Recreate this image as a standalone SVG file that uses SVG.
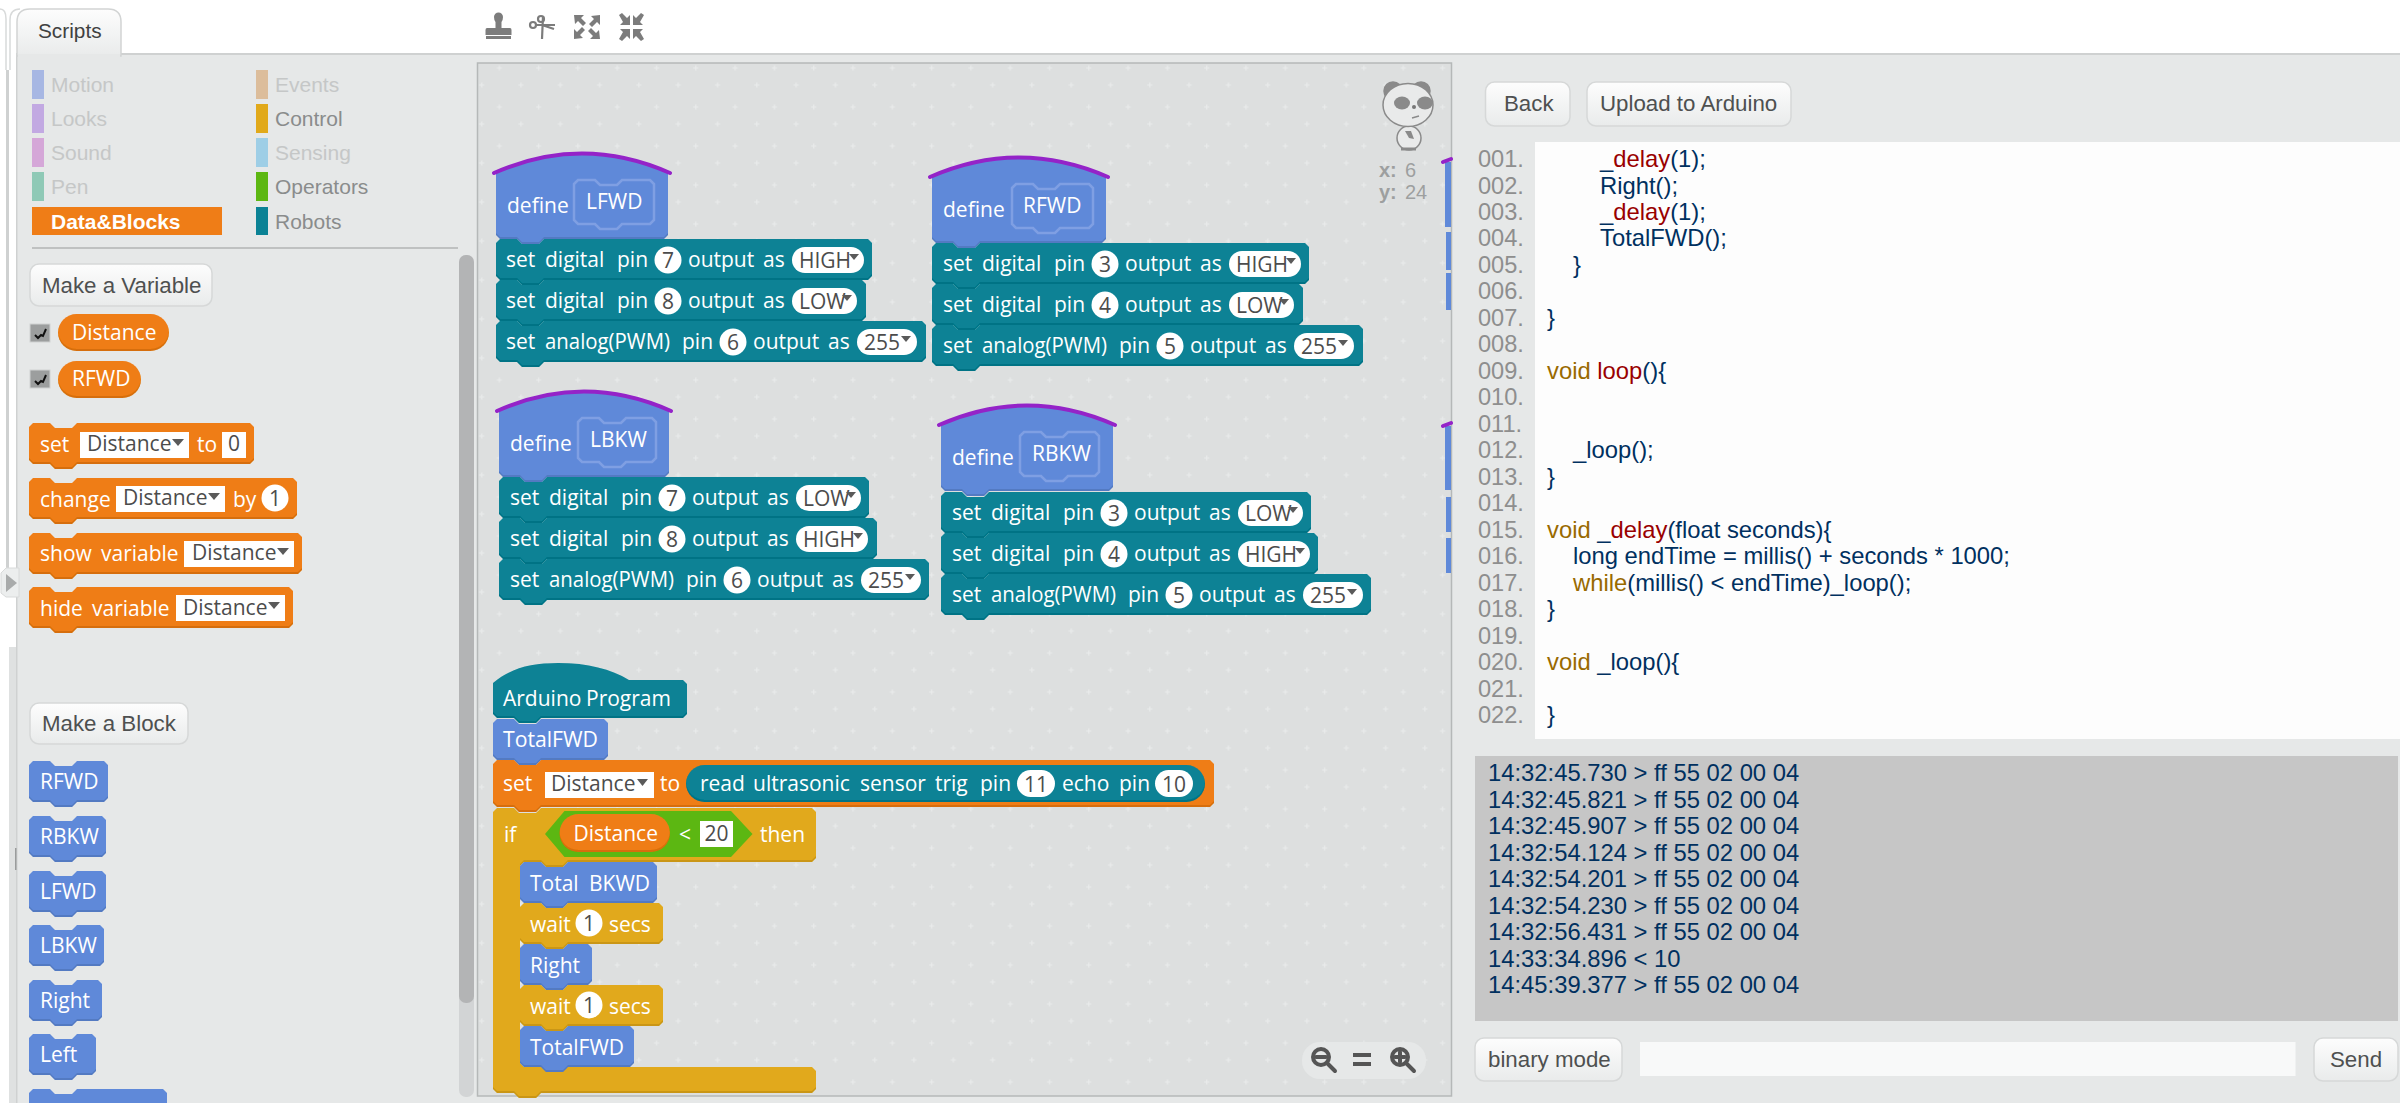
<svg xmlns="http://www.w3.org/2000/svg" width="2400" height="1103" viewBox="0 0 2400 1103">
<style>
text{font-family:"Liberation Sans",Arial,sans-serif}
.w,.k,.n{font-family:"Open Sans","Noto Sans",sans-serif;font-size:21px;font-weight:500}
.w{fill:#fff}
.k,.n{fill:#4c4c4c;font-weight:400}
.n{text-anchor:middle}
.o{fill:#fff}
.t{fill:#5a5a5a}
.bl{fill:#5f89d9;filter:url(#bevel)}
.te{fill:#0b8295;filter:url(#bevel)}
.or{fill:#ef7d17;filter:url(#bevel)}
.go{fill:#e1a91a;filter:url(#bevel)}
.pu{fill:none;stroke:#9423c8;stroke-width:4;stroke-linecap:round}
.in{fill:none;stroke:#7f9fe3;stroke-width:2.5}
.btn{fill:url(#bg);stroke:#d6d8d8;stroke-width:1.5}
.bt{font-size:22.3px;fill:#4e5050}
.cat{font-size:21px;fill:#c5c7c7}
.cat2{font-size:21px;fill:#8a8c8c}
.ln{font-size:23.6px;fill:#8e8e8e}
.c{font-size:23.8px;fill:#00305f}
.r{fill:#990000}
.y{fill:#996a00}
.lg{font-size:23.8px;fill:#00305f}
.ic{fill:#7c7c7c}
.zi{fill:none;stroke:#555;stroke-width:4}
</style>
<defs>
<linearGradient id="bg" x1="0" y1="0" x2="0" y2="1"><stop offset="0" stop-color="#fdfdfd"/><stop offset="1" stop-color="#e9ebeb"/></linearGradient>
<filter id="bevel" x="-2%" y="-5%" width="104%" height="115%">
<feOffset in="SourceAlpha" dy="-2" result="o"/>
<feFlood flood-color="#000" flood-opacity=".22"/>
<feComposite in2="SourceAlpha" operator="in"/>
<feComposite in2="o" operator="out" result="e"/>
<feMerge><feMergeNode in="SourceGraphic"/><feMergeNode in="e"/></feMerge>
</filter>
<pattern id="grid" patternUnits="userSpaceOnUse" x="475" y="60" width="39.3" height="39">
<path d="M21.8 8h5M24.3 5.500v5M4.200 25h5M6.700 22.500v5" stroke="#e9ebeb" stroke-width="1.200" fill="none"/>
</pattern>
</defs>

<rect width="2400" height="1103" fill="#e6e8e8"/>
<rect width="2400" height="54" fill="#fff"/>
<rect x="0" y="53" width="2400" height="2" fill="#cfd1d1"/>

<g id="left-strip">
<rect x="0" y="0" width="16" height="1103" fill="#fff"/>
<rect x="6" y="70" width="3" height="500" fill="#cfd1d1"/>
<rect x="9" y="647" width="7" height="456" fill="#dfe1e1"/>
<rect x="16" y="55" width="1.500" height="1048" fill="#cfd1d1"/>
<rect x="15" y="848" width="1.500" height="22" fill="#9a9c9c"/>
<path d="M0 9q6 0 6 10V70M10 70V20q0-11 10-11" fill="none" stroke="#d8dada" stroke-width="1.500"/>
<path d="M19 568H6l-5 5v20l5 4H19z" fill="#eceeee" stroke="#d8dada"/>
<path d="M6 574l11 9-11 9z" fill="#a9abab"/>
</g>

<g id="tab-scripts">
<path d="M17 56V22q0-13 13-13H108q13 0 13 13V56z" fill="url(#bg)" stroke="#d2d4d4" stroke-width="1.500"/>
<path d="M18 54H120V57H18z" fill="#e6e8e8"/>
<text x="38" y="38" font-size="20.800" fill="#3f4141">Scripts</text>
</g>

<g id="toolbar">
<path class="ic" d="M494 17a4.500 4.500 0 0 1 9 0q0 3-1.500 5v6h8.500q1.500 0 1.500 2v5h-26v-5q0-2 1.500-2h8.500v-6q-1.500-2-1.500-5zM486 36h25v3h-25z"/>
<g fill="none" stroke="#7c7c7c" stroke-width="2.200"><circle cx="533" cy="25" r="3"/><circle cx="541" cy="19" r="3"/><path d="M536 25h19M543 16l-1 23M542 25l12 4"/></g>
<path class="ic" d="M574 15h10l-3 3 5 5-3 3-5-5-3 3zM600 15v10l-3-3-5 5-3-3 5-5-3-3zM574 39V29l3 3 5-5 3 3-5 5 3 3zM600 39h-10l3-3-5-5 3-3 5 5 3-3z"/>
<path class="ic" d="M619 15l3-2 5 5 3-3v10h-10l3-3zM644 15l-3-2-5 5-3-3v10h10l-3-3zM619 39l3 2 5-5 3 3V29h-10l3 3zM644 39l-3 2-5-5-3 3V29h10l-3 3z"/>
</g>

<g id="categories">
<rect x="32" y="70" width="12" height="29" fill="#a7b7e3"/><text class="cat" x="51" y="92">Motion</text>
<rect x="32" y="104" width="12" height="29" fill="#c2a9e2"/><text class="cat" x="51" y="126">Looks</text>
<rect x="32" y="138" width="12" height="29" fill="#d5a7d8"/><text class="cat" x="51" y="160">Sound</text>
<rect x="32" y="172" width="12" height="29" fill="#8fc9b6"/><text class="cat" x="51" y="194">Pen</text>
<rect x="32" y="207" width="190" height="28" fill="#ef7d17"/><text x="51" y="229" font-size="21" font-weight="700" fill="#fff">Data&amp;Blocks</text>
<rect x="256" y="70" width="12" height="29" fill="#dcbd9b"/><text class="cat" x="275" y="92">Events</text>
<rect x="256" y="104" width="12" height="29" fill="#e1a91a"/><text class="cat2" x="275" y="126">Control</text>
<rect x="256" y="138" width="12" height="29" fill="#9ecee6"/><text class="cat" x="275" y="160">Sensing</text>
<rect x="256" y="172" width="12" height="29" fill="#5cb712"/><text class="cat2" x="275" y="194">Operators</text>
<rect x="256" y="207" width="12" height="28" fill="#0b8295"/><text class="cat2" x="275" y="229">Robots</text>
<rect x="32" y="247" width="426" height="2" fill="#bfc1c1"/>
</g>

<g id="palette-scrollbar">
<rect x="459" y="255" width="15" height="842" rx="7" fill="#d2d4d5"/>
<rect x="459" y="255" width="15" height="748" rx="7" fill="#b3b4b5"/>
</g>

<g id="make-variable"><rect class="btn" x="30" y="264" width="182" height="42" rx="9"/><text class="bt" x="42" y="293">Make a Variable</text></g>

<g id="var-distance">
<rect x="30" y="324" width="20" height="18" fill="#9c9e9e" stroke="#d0d2d2"/><path d="M35 335l3 3 3-3 2 1 3-7" fill="none" stroke="#111" stroke-width="2"/>
<rect class="or" x="58" y="314" width="111" height="37" rx="18.500"/><text class="w" x="72" y="340" font-weight="600">Distance</text>
</g>
<g id="var-rfwd">
<rect x="30" y="370" width="20" height="18" fill="#9c9e9e" stroke="#d0d2d2"/><path d="M35 381l3 3 3-3 2 1 3-7" fill="none" stroke="#111" stroke-width="2"/>
<rect class="or" x="58" y="361" width="83" height="37" rx="18.500"/><text class="w" x="72" y="386" font-weight="600">RFWD</text>
</g>

<g id="pal-set" transform="translate(29 423)">
<path class="or" d="M0 4l4-4H21l5 5H43l5-5H221l4 4V37l-4 4H48l-5 5H26l-5-5H4l-4-4z"/>
<text class="w" x="11" y="29">set</text><rect class="o" x="51" y="9" width="109" height="26"/><text class="k" x="58" y="28">Distance</text><path class="t" d="M143 16h12l-6 7z"/>
<text class="w" x="168" y="29">to</text><rect class="o" x="193" y="9" width="24" height="26"/><text class="n" x="205" y="28">0</text>
</g>
<g id="pal-change" transform="translate(29 478)">
<path class="or" d="M0 4l4-4H21l5 5H43l5-5H264l4 4V37l-4 4H48l-5 5H26l-5-5H4l-4-4z"/>
<text class="w" x="11" y="29">change</text><rect class="o" x="87" y="8" width="109" height="26"/><text class="k" x="94" y="27">Distance</text><path class="t" d="M179 15h12l-6 7z"/>
<text class="w" x="204" y="29">by</text><circle class="o" cx="246" cy="20" r="13.500"/><text class="n" x="246" y="28">1</text>
</g>
<g id="pal-show" transform="translate(29 533)">
<path class="or" d="M0 4l4-4H21l5 5H43l5-5H269l4 4V37l-4 4H48l-5 5H26l-5-5H4l-4-4z"/>
<text class="w" x="11" y="28">show</text><text class="w" x="72" y="28">variable</text><rect class="o" x="155" y="8" width="110" height="26"/><text class="k" x="163" y="27">Distance</text><path class="t" d="M248 15h12l-6 7z"/>
</g>
<g id="pal-hide" transform="translate(29 587)">
<path class="or" d="M0 4l4-4H21l5 5H43l5-5H260l4 4V37l-4 4H48l-5 5H26l-5-5H4l-4-4z"/>
<text class="w" x="11" y="29">hide</text><text class="w" x="63" y="29">variable</text><rect class="o" x="147" y="8" width="109" height="26"/><text class="k" x="154" y="28">Distance</text><path class="t" d="M239 15h12l-6 7z"/>
</g>

<g id="make-block"><rect class="btn" x="30" y="703" width="158" height="41" rx="9"/><text class="bt" x="42" y="731">Make a Block</text></g>

<g id="pal-rfwd" transform="translate(29 761)"><path class="bl" d="M0 4l4-4H21l5 5H43l5-5H75l4 4V37l-4 4H48l-5 5H26l-5-5H4l-4-4z"/><text class="w" x="11" y="28" font-weight="600">RFWD</text></g>
<g id="pal-rbkw" transform="translate(29 816)"><path class="bl" d="M0 4l4-4H21l5 5H43l5-5H73l4 4V37l-4 4H48l-5 5H26l-5-5H4l-4-4z"/><text class="w" x="11" y="28" font-weight="600">RBKW</text></g>
<g id="pal-lfwd" transform="translate(29 871)"><path class="bl" d="M0 4l4-4H21l5 5H43l5-5H73l4 4V37l-4 4H48l-5 5H26l-5-5H4l-4-4z"/><text class="w" x="11" y="28" font-weight="600">LFWD</text></g>
<g id="pal-lbkw" transform="translate(29 925)"><path class="bl" d="M0 4l4-4H21l5 5H43l5-5H71l4 4V37l-4 4H48l-5 5H26l-5-5H4l-4-4z"/><text class="w" x="11" y="28" font-weight="600">LBKW</text></g>
<g id="pal-right" transform="translate(29 980)"><path class="bl" d="M0 4l4-4H21l5 5H43l5-5H69l4 4V37l-4 4H48l-5 5H26l-5-5H4l-4-4z"/><text class="w" x="11" y="28" font-weight="600">Right</text></g>
<g id="pal-left" transform="translate(29 1034)"><path class="bl" d="M0 4l4-4H21l5 5H43l5-5H63l4 4V37l-4 4H48l-5 5H26l-5-5H4l-4-4z"/><text class="w" x="11" y="28" font-weight="600">Left</text></g>
<g id="pal-next" transform="translate(29 1089)"><path class="bl" d="M0 4l4-4H21l5 5H43l5-5H134l4 4V37l-4 4H48l-5 5H26l-5-5H4l-4-4z"/></g>

<g id="script-area">
<rect x="477.500" y="63" width="974" height="1033" fill="#dddfdf" stroke="#b5b8b8" stroke-width="1.500"/>
<rect x="478" y="64" width="973" height="1032" fill="url(#grid)"/>
</g>

<g id="panda" fill="#e9eaea" stroke="#8a8a8a" stroke-width="1.500">
<circle cx="1393" cy="91" r="9" fill="#8a8a8a"/><circle cx="1421" cy="91" r="9" fill="#8a8a8a"/>
<ellipse cx="1409" cy="138" rx="12" ry="12"/>
<ellipse cx="1408" cy="105" rx="25" ry="21.500"/>
<ellipse cx="1402" cy="103" rx="8" ry="6.500" fill="#8a8a8a" stroke="none"/><ellipse cx="1425" cy="103" rx="8" ry="6.500" fill="#8a8a8a" stroke="none"/>
<circle cx="1414" cy="107" r="2" fill="#777" stroke="none"/>
<path d="M1412 118l7-2" fill="none"/>
<path d="M1405 131l6 0 3 8-5-1z" fill="#8a8a8a" stroke="none"/>
<path d="M1401 149h15" fill="none" stroke-width="3"/>
</g>
<g id="coords" font-size="20" fill="#9d9f9f">
<text x="1379" y="177" font-weight="700">x:</text><text x="1405" y="177">6</text>
<text x="1379" y="199" font-weight="700">y:</text><text x="1405" y="199">24</text>
</g>

<g id="stack-lfwd">
<g transform="translate(496 172)"><path class="bl" d="M0 0Q86-38 172 0V63l-4 4H48l-5 5H26l-5-5H4l-4-4z"/><path class="pu" d="M-2 1Q86-38 174 1"/><path class="in" transform="translate(78 8)" d="M0 4l4-4H21l5 5H43l5-5H76l4 4V40l-4 4H48l-5 5H26l-5-5H4l-4-4z"/><text class="w" x="11" y="41">define</text><text class="w" x="90" y="37" font-weight="600">LFWD</text></g>
<g transform="translate(496 239)"><path class="te" d="M0 4l4-4H21l5 5H43l5-5H372l4 4V37l-4 4H48l-5 5H26l-5-5H4l-4-4z"/><text class="w" y="28"><tspan x="10">set</tspan><tspan x="49">digital</tspan><tspan x="121">pin</tspan><tspan x="192">output</tspan><tspan x="267">as</tspan></text><circle class="o" cx="172" cy="21" r="13.500"/><text class="n" x="172" y="29">7</text><rect class="o" x="296" y="8" width="72" height="26" rx="13"/><text class="k" x="303" y="29">HIGH</text><path class="t" d="M353 15h10l-5 6z"/></g>
<g transform="translate(496 280)"><path class="te" d="M0 4l4-4H21l5 5H43l5-5H366l4 4V37l-4 4H48l-5 5H26l-5-5H4l-4-4z"/><text class="w" y="28"><tspan x="10">set</tspan><tspan x="49">digital</tspan><tspan x="121">pin</tspan><tspan x="192">output</tspan><tspan x="267">as</tspan></text><circle class="o" cx="172" cy="21" r="13.500"/><text class="n" x="172" y="29">8</text><rect class="o" x="296" y="8" width="65" height="26" rx="13"/><text class="k" x="303" y="29">LOW</text><path class="t" d="M346 15h10l-5 6z"/></g>
<g transform="translate(496 321)"><path class="te" d="M0 4l4-4H21l5 5H43l5-5H426l4 4V37l-4 4H48l-5 5H26l-5-5H4l-4-4z"/><text class="w" y="28"><tspan x="10">set</tspan><tspan x="186">pin</tspan><tspan x="257">output</tspan><tspan x="332">as</tspan></text><text class="w" x="49" y="28" textLength="125" lengthAdjust="spacingAndGlyphs">analog(PWM)</text><circle class="o" cx="237" cy="21" r="13.500"/><text class="n" x="237" y="29">6</text><rect class="o" x="361" y="8" width="60" height="26" rx="13"/><text class="k" x="368" y="29">255</text><path class="t" d="M405 15h10l-5 6z"/></g>
</g>

<g id="stack-rfwd">
<g transform="translate(932 176)"><path class="bl" d="M0 0Q87-38 174 0V63l-4 4H48l-5 5H26l-5-5H4l-4-4z"/><path class="pu" d="M-2 1Q87-38 176 1"/><path class="in" transform="translate(80 8)" d="M0 4l4-4H21l5 5H43l5-5H77l4 4V40l-4 4H48l-5 5H26l-5-5H4l-4-4z"/><text class="w" x="11" y="41">define</text><text class="w" x="91" y="37" font-weight="600">RFWD</text></g>
<g transform="translate(932 243)"><path class="te" d="M0 4l4-4H21l5 5H43l5-5H373l4 4V37l-4 4H48l-5 5H26l-5-5H4l-4-4z"/><text class="w" y="28"><tspan x="11">set</tspan><tspan x="50">digital</tspan><tspan x="122">pin</tspan><tspan x="193">output</tspan><tspan x="268">as</tspan></text><circle class="o" cx="173" cy="21" r="13.500"/><text class="n" x="173" y="29">3</text><rect class="o" x="297" y="8" width="72" height="26" rx="13"/><text class="k" x="304" y="29">HIGH</text><path class="t" d="M354 15h10l-5 6z"/></g>
<g transform="translate(932 284)"><path class="te" d="M0 4l4-4H21l5 5H43l5-5H367l4 4V37l-4 4H48l-5 5H26l-5-5H4l-4-4z"/><text class="w" y="28"><tspan x="11">set</tspan><tspan x="50">digital</tspan><tspan x="122">pin</tspan><tspan x="193">output</tspan><tspan x="268">as</tspan></text><circle class="o" cx="173" cy="21" r="13.500"/><text class="n" x="173" y="29">4</text><rect class="o" x="297" y="8" width="65" height="26" rx="13"/><text class="k" x="304" y="29">LOW</text><path class="t" d="M347 15h10l-5 6z"/></g>
<g transform="translate(932 325)"><path class="te" d="M0 4l4-4H21l5 5H43l5-5H427l4 4V37l-4 4H48l-5 5H26l-5-5H4l-4-4z"/><text class="w" y="28"><tspan x="11">set</tspan><tspan x="187">pin</tspan><tspan x="258">output</tspan><tspan x="333">as</tspan></text><text class="w" x="50" y="28" textLength="125" lengthAdjust="spacingAndGlyphs">analog(PWM)</text><circle class="o" cx="238" cy="21" r="13.500"/><text class="n" x="238" y="29">5</text><rect class="o" x="362" y="8" width="60" height="26" rx="13"/><text class="k" x="369" y="29">255</text><path class="t" d="M406 15h10l-5 6z"/></g>
</g>

<g id="stack-lbkw">
<g transform="translate(499 410)"><path class="bl" d="M0 0Q85-38 170 0V63l-4 4H48l-5 5H26l-5-5H4l-4-4z"/><path class="pu" d="M-2 1Q85-38 172 1"/><path class="in" transform="translate(79 8)" d="M0 4l4-4H21l5 5H43l5-5H74l4 4V40l-4 4H48l-5 5H26l-5-5H4l-4-4z"/><text class="w" x="11" y="41">define</text><text class="w" x="91" y="37" font-weight="600">LBKW</text></g>
<g transform="translate(499 477)"><path class="te" d="M0 4l4-4H21l5 5H43l5-5H366l4 4V37l-4 4H48l-5 5H26l-5-5H4l-4-4z"/><text class="w" y="28"><tspan x="11">set</tspan><tspan x="50">digital</tspan><tspan x="122">pin</tspan><tspan x="193">output</tspan><tspan x="268">as</tspan></text><circle class="o" cx="173" cy="21" r="13.500"/><text class="n" x="173" y="29">7</text><rect class="o" x="297" y="8" width="65" height="26" rx="13"/><text class="k" x="304" y="29">LOW</text><path class="t" d="M347 15h10l-5 6z"/></g>
<g transform="translate(499 518)"><path class="te" d="M0 4l4-4H21l5 5H43l5-5H374l4 4V37l-4 4H48l-5 5H26l-5-5H4l-4-4z"/><text class="w" y="28"><tspan x="11">set</tspan><tspan x="50">digital</tspan><tspan x="122">pin</tspan><tspan x="193">output</tspan><tspan x="268">as</tspan></text><circle class="o" cx="173" cy="21" r="13.500"/><text class="n" x="173" y="29">8</text><rect class="o" x="297" y="8" width="72" height="26" rx="13"/><text class="k" x="304" y="29">HIGH</text><path class="t" d="M354 15h10l-5 6z"/></g>
<g transform="translate(499 559)"><path class="te" d="M0 4l4-4H21l5 5H43l5-5H426l4 4V37l-4 4H48l-5 5H26l-5-5H4l-4-4z"/><text class="w" y="28"><tspan x="11">set</tspan><tspan x="187">pin</tspan><tspan x="258">output</tspan><tspan x="333">as</tspan></text><text class="w" x="50" y="28" textLength="125" lengthAdjust="spacingAndGlyphs">analog(PWM)</text><circle class="o" cx="238" cy="21" r="13.500"/><text class="n" x="238" y="29">6</text><rect class="o" x="362" y="8" width="60" height="26" rx="13"/><text class="k" x="369" y="29">255</text><path class="t" d="M406 15h10l-5 6z"/></g>
</g>

<g id="stack-rbkw">
<g transform="translate(941 424)"><path class="bl" d="M0 0Q86-38 172 0V63l-4 4H48l-5 5H26l-5-5H4l-4-4z"/><path class="pu" d="M-2 1Q86-38 174 1"/><path class="in" transform="translate(79 8)" d="M0 4l4-4H21l5 5H43l5-5H75l4 4V40l-4 4H48l-5 5H26l-5-5H4l-4-4z"/><text class="w" x="11" y="41">define</text><text class="w" x="91" y="37" font-weight="600">RBKW</text></g>
<g transform="translate(941 492)"><path class="te" d="M0 4l4-4H21l5 5H43l5-5H366l4 4V37l-4 4H48l-5 5H26l-5-5H4l-4-4z"/><text class="w" y="28"><tspan x="11">set</tspan><tspan x="50">digital</tspan><tspan x="122">pin</tspan><tspan x="193">output</tspan><tspan x="268">as</tspan></text><circle class="o" cx="173" cy="21" r="13.500"/><text class="n" x="173" y="29">3</text><rect class="o" x="297" y="8" width="65" height="26" rx="13"/><text class="k" x="304" y="29">LOW</text><path class="t" d="M347 15h10l-5 6z"/></g>
<g transform="translate(941 533)"><path class="te" d="M0 4l4-4H21l5 5H43l5-5H373l4 4V37l-4 4H48l-5 5H26l-5-5H4l-4-4z"/><text class="w" y="28"><tspan x="11">set</tspan><tspan x="50">digital</tspan><tspan x="122">pin</tspan><tspan x="193">output</tspan><tspan x="268">as</tspan></text><circle class="o" cx="173" cy="21" r="13.500"/><text class="n" x="173" y="29">4</text><rect class="o" x="297" y="8" width="72" height="26" rx="13"/><text class="k" x="304" y="29">HIGH</text><path class="t" d="M354 15h10l-5 6z"/></g>
<g transform="translate(941 574)"><path class="te" d="M0 4l4-4H21l5 5H43l5-5H426l4 4V37l-4 4H48l-5 5H26l-5-5H4l-4-4z"/><text class="w" y="28"><tspan x="11">set</tspan><tspan x="187">pin</tspan><tspan x="258">output</tspan><tspan x="333">as</tspan></text><text class="w" x="50" y="28" textLength="125" lengthAdjust="spacingAndGlyphs">analog(PWM)</text><circle class="o" cx="238" cy="21" r="13.500"/><text class="n" x="238" y="29">5</text><rect class="o" x="362" y="8" width="60" height="26" rx="13"/><text class="k" x="369" y="29">255</text><path class="t" d="M406 15h10l-5 6z"/></g>
</g>

<g id="stack-program">
<g transform="translate(493 663)"><path class="te" d="M0 20C18 5 38 0 65 0C95 0 118 6 136 17H190l4 4V51l-4 4H48l-5 5H26l-5-5H4l-4-4z"/><text class="w" y="43"><tspan x="10">Arduino</tspan><tspan x="93">Program</tspan></text></g>
<g transform="translate(493 719)"><path class="bl" d="M0 4l4-4H21l5 5H43l5-5H111l4 4V37l-4 4H48l-5 5H26l-5-5H4l-4-4z"/><text class="w" x="10" y="28" textLength="95" lengthAdjust="spacingAndGlyphs">TotalFWD</text></g>
<g transform="translate(493 760)"><path class="or" d="M0 4l4-4H21l5 5H43l5-5H717l4 4V43l-4 4H48l-5 5H26l-5-5H4l-4-4z"/><text class="w" x="10" y="31">set</text><rect class="o" x="52" y="12" width="109" height="26"/><text class="k" x="58" y="31">Distance</text><path class="t" d="M144 19h11l-5.500 7z"/><text class="w" x="167" y="31">to</text></g>
<g transform="translate(686 765)"><rect class="te" width="519" height="37" rx="18.500"/><text class="w" y="26"><tspan x="14">read</tspan><tspan x="67">ultrasonic</tspan><tspan x="174">sensor</tspan><tspan x="249">trig</tspan><tspan x="294">pin</tspan><tspan x="376">echo</tspan><tspan x="433">pin</tspan></text><rect class="o" x="331" y="5" width="38" height="27" rx="13.500"/><text class="n" x="350" y="27">11</text><rect class="o" x="469" y="5" width="38" height="27" rx="13.500"/><text class="n" x="488" y="27">10</text></g>
<g transform="translate(493 808)"><path class="go" d="M0 4l4-4H21l5 5H43l5-5H319l4 4V50l-4 4H75l-5 5H53l-5-5H31l-4 4V255l4 4H319l4 4V281l-4 4H48l-5 5H26l-5-5H4l-4-4z"/><text class="w" x="11" y="34">if</text><text class="w" x="267" y="34">then</text>
<path d="M52 26l19.500-23H238l21.500 23-21.500 23H71.500z" fill="#5cb712"/><rect class="or" x="66.500" y="6" width="110.500" height="38" rx="19"/><text class="w" x="80.500" y="33" font-weight="600">Distance</text><text class="w" x="186" y="34">&lt;</text><rect class="o" x="207" y="13" width="33" height="26"/><text class="n" x="223.500" y="33">20</text></g>
<g transform="translate(520 862)"><path class="bl" d="M0 4l4-4H21l5 5H43l5-5H133l4 4V37l-4 4H48l-5 5H26l-5-5H4l-4-4z"/><text class="w" y="29"><tspan x="10">Total</tspan><tspan x="69">BKWD</tspan></text></g>
<g transform="translate(520 903)"><path class="go" d="M0 4l4-4H21l5 5H43l5-5H139l4 4V37l-4 4H48l-5 5H26l-5-5H4l-4-4z"/><text class="w" x="10" y="29">wait</text><circle class="o" cx="69" cy="20" r="13.500"/><text class="n" x="69" y="28">1</text><text class="w" x="89" y="29">secs</text></g>
<g transform="translate(520 944)"><path class="bl" d="M0 4l4-4H21l5 5H43l5-5H68l4 4V37l-4 4H48l-5 5H26l-5-5H4l-4-4z"/><text class="w" x="10" y="29">Right</text></g>
<g transform="translate(520 985)"><path class="go" d="M0 4l4-4H21l5 5H43l5-5H139l4 4V37l-4 4H48l-5 5H26l-5-5H4l-4-4z"/><text class="w" x="10" y="29">wait</text><circle class="o" cx="69" cy="20" r="13.500"/><text class="n" x="69" y="28">1</text><text class="w" x="89" y="29">secs</text></g>
<g transform="translate(520 1026)"><path class="bl" d="M0 4l4-4H21l5 5H43l5-5H110l4 4V37l-4 4H48l-5 5H26l-5-5H4l-4-4z"/><text class="w" x="10" y="29" textLength="94" lengthAdjust="spacingAndGlyphs">TotalFWD</text></g>
</g>

<g id="clipped-right-edge">
<path d="M1445 162h6V227h-6zM1446 232h5v38h-5zM1446 273h5v37h-5zM1445 426h6V490h-6zM1446 497h5v35h-5zM1446 538h5v35h-5z" fill="#5f89d9"/>
<path d="M1443 162l8-3M1443 426l8-3" stroke="#9423c8" stroke-width="4" stroke-linecap="round" fill="none"/>
</g>

<g id="zoom-controls">
<rect x="1302" y="1042" width="124" height="37" rx="18" fill="#e6e8e8"/>
<circle class="zi" cx="1321" cy="1057" r="8"/><path class="zi" d="M1316 1057h10M1327 1063l8 8" stroke-linecap="round"/>
<path d="M1353 1053h18v4h-18zM1353 1062h18v4h-18z" fill="#555"/>
<circle class="zi" cx="1400" cy="1057" r="8"/><path class="zi" d="M1395 1057h10M1400 1052v10M1406 1063l8 8" stroke-linecap="round"/>
</g>

<g id="code-buttons">
<rect class="btn" x="1485.500" y="82" width="84.500" height="44" rx="9"/><text class="bt" x="1504" y="111">Back</text>
<rect class="btn" x="1587" y="82" width="204" height="44" rx="9"/><text class="bt" x="1600" y="111">Upload to Arduino</text>
</g>

<g id="code-panel">
<rect x="1535" y="142" width="1863" height="597" fill="#fdfdfd"/>
<g class="ln">
<text x="1478" y="167">001.</text><text x="1478" y="193.500">002.</text><text x="1478" y="220">003.</text><text x="1478" y="246.400">004.</text><text x="1478" y="273">005.</text><text x="1478" y="299.400">006.</text><text x="1478" y="326">007.</text><text x="1478" y="352.400">008.</text><text x="1478" y="379">009.</text><text x="1478" y="405.300">010.</text><text x="1478" y="432">011.</text><text x="1478" y="458.300">012.</text><text x="1478" y="485">013.</text><text x="1478" y="511.200">014.</text><text x="1478" y="538">015.</text><text x="1478" y="564.200">016.</text><text x="1478" y="591">017.</text><text x="1478" y="617.100">018.</text><text x="1478" y="644">019.</text><text x="1478" y="670.100">020.</text><text x="1478" y="697">021.</text><text x="1478" y="723">022.</text>
</g>
<g class="c">
<text x="1600" y="167">_<tspan class="r">delay</tspan>(1);</text>
<text x="1600" y="193.500">Right();</text>
<text x="1600" y="220">_<tspan class="r">delay</tspan>(1);</text>
<text x="1600" y="246.400">TotalFWD();</text>
<text x="1573" y="273">}</text>
<text x="1547" y="326">}</text>
<text x="1547" y="379"><tspan class="y">void</tspan> <tspan class="r">loop</tspan>(){</text>
<text x="1573" y="458.300">_loop();</text>
<text x="1547" y="485">}</text>
<text x="1547" y="538"><tspan class="y">void</tspan> _<tspan class="r">delay</tspan>(float seconds){</text>
<text x="1573" y="564.200">long endTime = millis() + seconds * 1000;</text>
<text x="1573" y="591"><tspan class="y">while</tspan>(millis() &lt; endTime)_loop();</text>
<text x="1547" y="617.100">}</text>
<text x="1547" y="670.100"><tspan class="y">void</tspan> _loop(){</text>
<text x="1547" y="723">}</text>
</g>
</g>

<g id="console">
<rect x="1475" y="756" width="923" height="265" fill="#c6c6c6"/>
<g class="lg">
<text x="1488" y="781">14:32:45.730 &gt; ff 55 02 00 04</text>
<text x="1488" y="807.500">14:32:45.821 &gt; ff 55 02 00 04</text>
<text x="1488" y="834">14:32:45.907 &gt; ff 55 02 00 04</text>
<text x="1488" y="860.500">14:32:54.124 &gt; ff 55 02 00 04</text>
<text x="1488" y="887">14:32:54.201 &gt; ff 55 02 00 04</text>
<text x="1488" y="913.500">14:32:54.230 &gt; ff 55 02 00 04</text>
<text x="1488" y="940">14:32:56.431 &gt; ff 55 02 00 04</text>
<text x="1488" y="966.500">14:33:34.896 &lt; 10</text>
<text x="1488" y="993">14:45:39.377 &gt; ff 55 02 00 04</text>
</g>
</g>

<g id="serial-input">
<rect class="btn" x="1475" y="1038" width="147" height="43" rx="9"/><text class="bt" x="1488" y="1067">binary mode</text>
<rect x="1640" y="1042" width="655.500" height="34" fill="#f8f9f9"/>
<rect class="btn" x="2314" y="1038" width="84" height="43" rx="9"/><text class="bt" x="2330" y="1067">Send</text>
</g>
</svg>
